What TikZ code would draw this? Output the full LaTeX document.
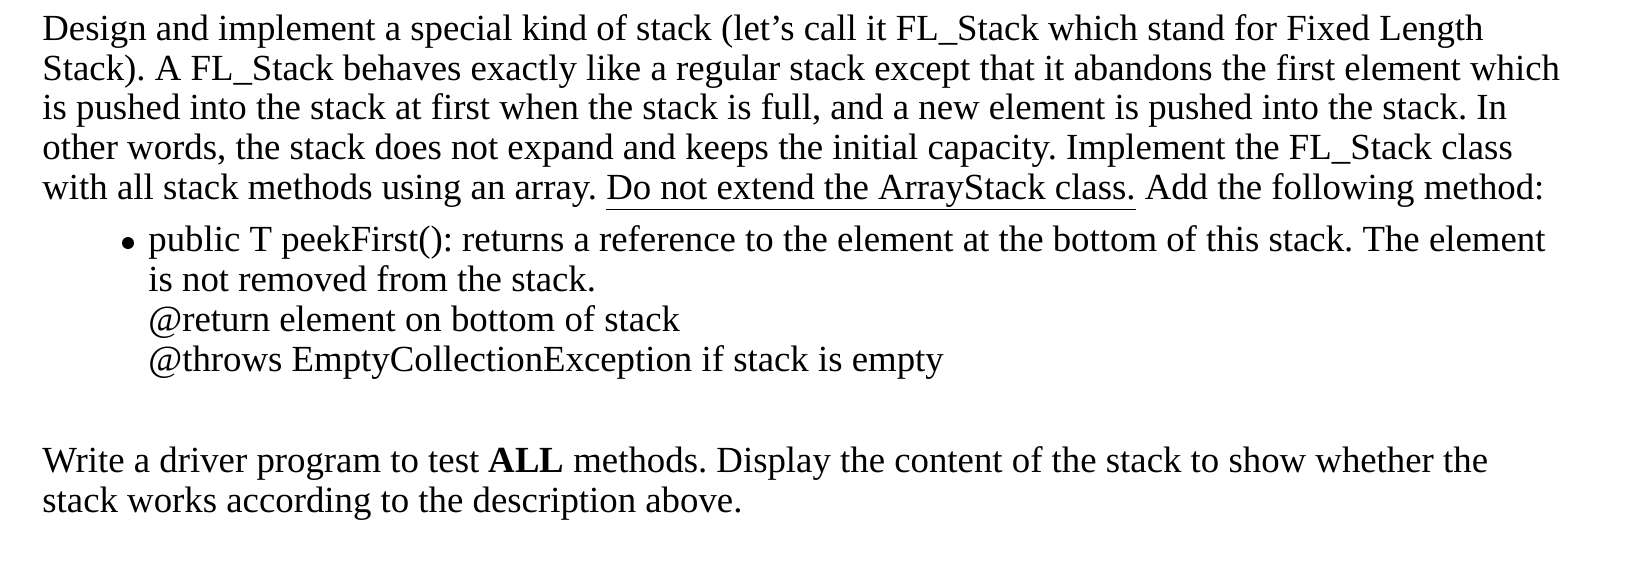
\documentclass[tikz,border=0pt]{standalone}
\usepackage{fontspec}
\setmainfont{Liberation Serif}
\frenchspacing
\begin{document}
\begin{tikzpicture}[x=0.5pt,y=-0.5pt,every node/.style={anchor=base west,inner sep=0pt,font=\fontsize{18.4}{22}\selectfont}]
\useasboundingbox (0,0) rectangle (1652,570);
\node (l1) at (42,40) {Design and implement a special kind of stack (let’s call it FL\_Stack which stand for Fixed Length};
\node (l2) at (42,80) {Stack). A FL\_Stack behaves exactly like a regular stack except that it abandons the first element which};
\node (l3) at (42,119) {is pushed into the stack at first when the stack is full, and a new element is pushed into the stack. In};
\node (l4) at (42,159) {other words, the stack does not expand and keeps the initial capacity. Implement the FL\_Stack class};
\node (l5) at (42,199) {with all stack methods using an array. \underline{Do not extend the ArrayStack class.} Add the following method:};
\fill (128,243) circle (3pt);
\node (l6) at (148,251) {public T peekFirst(): returns a reference to the element at the bottom of this stack. The element};
\node (l7) at (148,291) {is not removed from the stack.};
\node (l8) at (148,331) {@return element on bottom of stack};
\node (l9) at (148,371) {@throws EmptyCollectionException if stack is empty};
\node (l10) at (42,472) {Write a driver program to test \textbf{ALL} methods. Display the content of the stack to show whether the};
\node (l11) at (42,512) {stack works according to the description above.};
\end{tikzpicture}
\end{document}
